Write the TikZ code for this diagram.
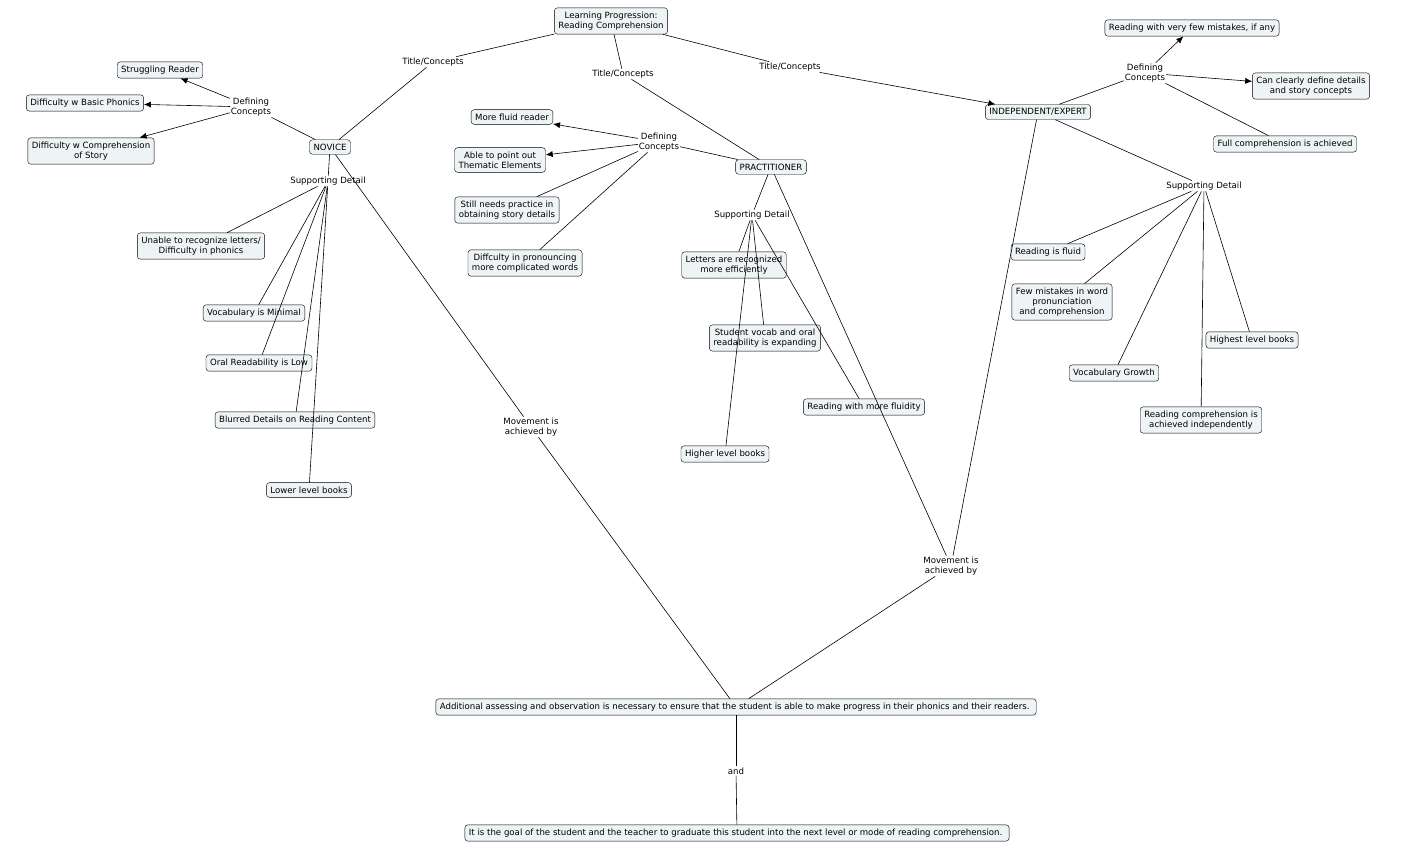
\documentclass[tikz,border=0pt]{standalone}
\usepackage{fontspec}
\setmainfont{DejaVu Sans}
\usetikzlibrary{arrows.meta}
\definecolor{cfill}{HTML}{EEF3F5}

\begin{document}
\begin{tikzpicture}[
  x=1pt, y=-1pt,
  font=\fontsize{8.6}{10}\selectfont,
  every node/.style={align=center},
  concept/.style={draw, rounded corners=3pt, fill=cfill, inner sep=4pt},
  phrase/.style={fill=white, inner sep=1pt},
  link/.style={-, semithick},
  arrow/.style={-{Latex[length=7pt,width=6pt]}, semithick}]

  \useasboundingbox (0,0) rectangle (1403,850);

  % Top level
  \node[concept] (title) at (611,21) {Learning Progression:\\Reading Comprehension};
  \node[phrase] (tc-novice) at (433,62) {Title/Concepts};
  \node[phrase] (tc-pract) at (623,74) {Title/Concepts};
  \node[phrase] (tc-expert) at (790,67) {Title/Concepts};
  \node[concept] (novice) at (330,147) {NOVICE};
  \node[concept] (pract) at (771,167) {PRACTITIONER};
  \node[concept] (expert) at (1038,112) {INDEPENDENT/EXPERT};

  % Novice
  \node[phrase] (def-novice) at (251,107) {Defining\\Concepts};
  \node[concept] (struggling) at (160,70) {Struggling Reader};
  \node[concept] (phonics) at (85,103) {Difficulty w Basic Phonics};
  \node[concept] (comp-story) at (91,151) {Difficulty w Comprehension\\of Story};
  \node[phrase] (sup-novice) at (328,181) {Supporting Detail};
  \node[concept] (letters-novice) at (201,246) {Unable to recognize letters/\\Difficulty in phonics};
  \node[concept] (vocab-novice) at (254,313) {Vocabulary is Minimal};
  \node[concept] (oral-novice) at (259,363) {Oral Readability is Low};
  \node[concept] (blurred) at (295,420) {Blurred Details on Reading Content};
  \node[concept] (lower) at (309,490) {Lower level books};
  \node[phrase] (move-novice) at (531,427) {Movement is\\achieved by};

  % Practitioner
  \node[phrase] (def-pract) at (659,142) {Defining\\Concepts};
  \node[concept] (fluid-pract) at (512,117) {More fluid reader};
  \node[concept] (thematic) at (500,160) {Able to point out\\Thematic Elements};
  \node[concept] (practice) at (507,210) {Still needs practice in\\obtaining story details};
  \node[concept] (pronounce) at (525,263) {Diffculty in pronouncing\\more complicated words};
  \node[phrase] (sup-pract) at (752,215) {Supporting Detail};
  \node[concept] (letters-pract) at (734,265) {Letters are recognized\\more efficiently};
  \node[concept] (vocab-pract) at (765,338) {Student vocab and oral\\readability is expanding};
  \node[concept] (fluidity) at (864,407) {Reading with more fluidity};
  \node[concept] (higher) at (725,454) {Higher level books};
  \node[phrase] (move-pract) at (951,566) {Movement is\\achieved by};

  % Expert
  \node[phrase] (def-expert) at (1145,73) {Defining\\Concepts};
  \node[concept] (few-mistakes) at (1192,28) {Reading with very few mistakes, if any};
  \node[concept] (define-details) at (1311,86) {Can clearly define details\\and story concepts};
  \node[concept] (full-comp) at (1285,144) {Full comprehension is achieved};
  \node[phrase] (sup-expert) at (1204,186) {Supporting Detail};
  \node[concept] (fluid-expert) at (1048,252) {Reading is fluid};
  \node[concept] (word-mistakes) at (1062,302) {Few mistakes in word\\pronunciation\\ and comprehension};
  \node[concept] (vocab-growth) at (1114,373) {Vocabulary Growth};
  \node[concept] (highest) at (1252,340) {Highest level books};
  \node[concept] (independent) at (1201,420) {Reading comprehension is\\achieved independently};

  % Bottom
  \node[concept] (assessing) at (736,707) {Additional assessing and observation is necessary to ensure that the student is able to make progress in their phonics and their readers.\ };
  \node[phrase] (and) at (736,771) {and};
  \node[concept] (goal) at (737,833) {It is the goal of the student and the teacher to graduate this student into the next level or mode of reading comprehension.\ };

  \begin{scope}[on background layer/.try]
  \end{scope}

  % Connectors
  \draw[link] (title) -- (tc-novice);
  \draw[link] (tc-novice) -- (novice);
  \draw[link] (title) -- (tc-pract);
  \draw[link] (tc-pract) -- (pract);
  \draw[link] (title) -- (tc-expert);
  \draw[arrow] (tc-expert) -- (expert);

  \draw[link] (novice) -- (def-novice);
  \foreach \n in {struggling, phonics, comp-story}
    \draw[arrow] (def-novice) -- (\n);
  \draw[link] (novice) -- (sup-novice);
  \foreach \n in {letters-novice, vocab-novice, oral-novice, blurred, lower}
    \draw[link] (sup-novice) -- (\n);
  \draw[link] (novice) -- (move-novice);
  \draw[link] (move-novice) -- (assessing);

  \draw[link] (pract) -- (def-pract);
  \foreach \n in {fluid-pract, thematic}
    \draw[arrow] (def-pract) -- (\n);
  \foreach \n in {practice, pronounce}
    \draw[link] (def-pract) -- (\n);
  \draw[link] (pract) -- (sup-pract);
  \foreach \n in {letters-pract, vocab-pract, fluidity, higher}
    \draw[link] (sup-pract) -- (\n);
  \draw[link] (pract) -- (move-pract);
  \draw[link] (expert) -- (move-pract);
  \draw[link] (move-pract) -- (assessing);

  \draw[link] (expert) -- (def-expert);
  \foreach \n in {few-mistakes, define-details}
    \draw[arrow] (def-expert) -- (\n);
  \draw[link] (def-expert) -- (full-comp);
  \draw[link] (expert) -- (sup-expert);
  \foreach \n in {fluid-expert, word-mistakes, vocab-growth, highest, independent}
    \draw[link] (sup-expert) -- (\n);

  \draw[link] (assessing) -- (and);
  \draw[link] (and) -- (goal);
\end{tikzpicture}
\end{document}
